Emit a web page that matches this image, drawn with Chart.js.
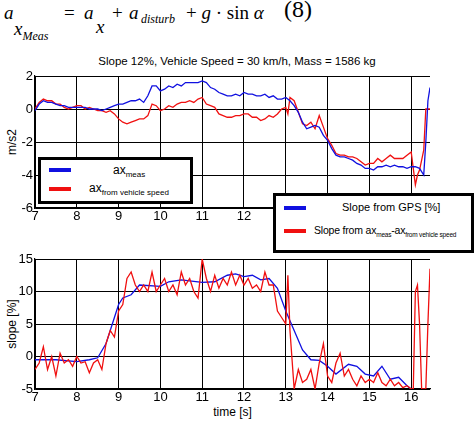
<!DOCTYPE html>
<html><head><meta charset="utf-8">
<script src="https://cdn.jsdelivr.net/npm/chart.js@4"></script>
<style>
body{margin:0;width:474px;height:421px;position:relative;background:#fff;font-family:"Liberation Sans",Arial,sans-serif;overflow:hidden}
.abs{position:absolute}
.eq{font-family:"Liberation Serif","Times New Roman",serif;font-size:19px;font-style:italic;left:4px;top:2px;white-space:nowrap}
.leg{position:absolute;border:3px solid #000;background:#fff;box-sizing:border-box;font-size:12px;z-index:5}
.sw{position:absolute;height:4px;width:22px}
sub{font-size:8px}
</style></head><body>
<div class="eq abs">
<span class="abs" style="left:0;top:0">a</span>
<span class="abs" style="left:10px;top:16px">x<sub style="font-size:12px">Meas</sub></span>
<span class="abs" style="left:60px;top:0;font-style:normal">=</span>
<span class="abs" style="left:80px;top:0">a</span>
<span class="abs" style="left:92px;top:14px">x</span>
<span class="abs" style="left:108px;top:0;font-style:normal">+</span>
<span class="abs" style="left:125px;top:0">a</span>
<span class="abs" style="left:137px;top:10px;font-size:12px">disturb</span>
<span class="abs" style="left:182px;top:0;font-style:normal">+ <i>g</i> · sin <i>α</i></span>
<span class="abs" style="left:280px;top:-6px;font-style:normal;font-size:24px">(8)</span>
</div>
<div class="abs" style="left:0;width:474px;top:55px;text-align:center;font-size:11.5px">Slope 12%, Vehicle Speed = 30 km/h, Mass = 1586 kg</div>
<div class="abs" style="left:0;top:76px;width:24px;height:132px;display:flex;align-items:center;justify-content:center"><span style="transform:rotate(-90deg);font-size:12px;white-space:nowrap">m/s2</span></div>
<div class="abs" style="left:0;top:259px;width:24px;height:130px;display:flex;align-items:center;justify-content:center"><span style="transform:rotate(-90deg);font-size:12px;white-space:nowrap">slope [%]</span></div>
<div class="abs" style="left:35px;width:395px;top:405px;text-align:center;font-size:12px">time [s]</div>
<div class="abs" style="left:0;top:54px;width:474px;height:176px"><canvas id="c1"></canvas></div>
<div class="abs" style="left:0;top:245px;width:474px;height:162px"><canvas id="c2"></canvas></div>
<div class="leg" style="left:38px;top:157px;width:155px;height:47px">
<div class="sw" style="background:#1010e0;left:8px;top:8px"></div>
<div class="abs" style="left:72px;top:3px">ax<sub>meas</sub></div>
<div class="sw" style="background:#f01010;left:8px;top:27px"></div>
<div class="abs" style="left:48px;top:21px">ax<sub>from vehicle speed</sub></div>
</div>
<div class="leg" style="left:273px;top:193px;width:201px;height:60px">
<div class="sw" style="background:#1010e0;left:8px;top:10px"></div>
<div class="abs" style="left:66px;top:5px;font-size:11px">Slope from GPS [%]</div>
<div class="sw" style="background:#f01010;left:8px;top:33px"></div>
<div class="abs" style="left:38px;top:28px;font-size:10.5px;white-space:nowrap;letter-spacing:-0.2px">Slope from ax<sub style="font-size:6.5px">meas</sub>-ax<sub style="font-size:6.5px">from vehicle speed</sub></div>
</div>
<script>
const tTop=[7.0,7.1,7.2,7.3,7.4,7.5,7.6,7.7,7.8,7.9,8.0,8.1,8.2,8.3,8.4,8.5,8.6,8.7,8.8,8.9,9.0,9.1,9.2,9.3,9.4,9.5,9.6,9.7,9.8,9.9,10.0,10.1,10.2,10.3,10.4,10.5,10.6,10.7,10.8,10.9,11.0,11.1,11.2,11.3,11.4,11.5,11.6,11.7,11.8,11.9,12.0,12.1,12.2,12.3,12.4,12.5,12.6,12.7,12.8,12.9,13.0,13.1,13.2,13.3,13.4,13.5,13.6,13.7,13.8,13.9,14.0,14.1,14.2,14.3,14.4,14.5,14.6,14.7,14.8,14.9,15.0,15.1,15.2,15.3,15.4,15.5,15.6,15.7,15.8,15.9,16.0,16.1,16.2,16.3,16.35,16.4,16.45];
const axMeas=[-0.1,0.3,0.5,0.4,0.4,0.3,0.2,0.2,0.1,0.1,0.1,0.1,0.1,0.0,0.0,0.0,-0.1,0.0,0.1,0.2,0.3,0.3,0.4,0.5,0.5,0.6,0.4,0.8,1.4,1.4,1.1,1.2,1.4,1.3,1.5,1.4,1.6,1.6,1.6,1.6,1.7,1.6,1.3,1.2,1.0,0.9,0.8,0.8,0.9,0.8,1.0,0.9,0.9,0.8,0.8,0.9,0.7,0.8,0.6,0.6,0.7,0.5,0.2,-0.2,-0.8,-1.2,-1.1,-1.0,-1.1,-1.6,-1.9,-2.4,-2.8,-2.9,-2.9,-3.0,-3.1,-3.3,-3.4,-3.6,-3.6,-3.7,-3.5,-3.5,-3.4,-3.5,-3.4,-3.5,-3.5,-3.6,-3.5,-3.5,-3.6,-4.0,-2.0,0.5,1.3];
const tRedTop=[7.0,7.1,7.2,7.3,7.4,7.5,7.6,7.7,7.8,7.9,8.0,8.1,8.2,8.3,8.4,8.5,8.6,8.7,8.8,8.9,9.0,9.1,9.2,9.3,9.4,9.5,9.6,9.7,9.8,9.9,10.0,10.1,10.2,10.3,10.4,10.5,10.6,10.7,10.8,10.9,11.0,11.1,11.2,11.3,11.4,11.5,11.6,11.7,11.8,11.9,12.0,12.1,12.2,12.3,12.4,12.5,12.6,12.7,12.8,12.9,13.0,13.05,13.1,13.2,13.3,13.4,13.5,13.6,13.7,13.8,13.9,14.0,14.1,14.2,14.3,14.4,14.5,14.6,14.7,14.8,14.9,15.0,15.1,15.2,15.3,15.4,15.5,15.6,15.7,15.8,15.9,16.0,16.05,16.1,16.15,16.2,16.3,16.35,16.45];
const axSpeed=[0.0,0.4,0.6,0.5,0.5,0.3,0.3,0.1,0.0,0.1,0.2,0.2,0.0,0.1,0.0,-0.1,-0.1,-0.2,-0.1,-0.3,-0.6,-0.8,-0.9,-0.8,-0.7,-0.6,-0.6,-0.4,0.3,0.2,-0.1,0.0,0.2,0.1,0.3,0.4,0.4,0.5,0.4,0.6,0.7,0.3,0.2,0.1,-0.3,-0.4,-0.5,-0.5,-0.4,-0.4,-0.3,-0.3,-0.5,-0.5,-0.7,-0.6,-0.4,-0.5,-0.3,0.0,0.1,-0.3,0.7,0.5,-0.2,-0.9,-1.0,-0.8,-1.2,-0.4,-1.1,-1.8,-2.2,-2.7,-2.8,-2.8,-2.9,-2.9,-3.0,-3.2,-3.4,-3.3,-3.3,-3.0,-3.2,-3.0,-2.8,-3.0,-3.0,-3.0,-2.8,-2.6,-3.6,-4.6,-4.0,-3.7,-2.5,0.0,0.0];
const tGps=[7.0,7.5,8.0,8.3,8.5,8.7,8.9,9.0,9.1,9.3,9.5,10.0,10.2,10.5,11.0,11.3,11.6,11.8,12.0,12.2,12.4,12.6,12.8,13.0,13.2,13.4,13.6,13.8,14.0,14.2,14.5,14.7,14.9,15.1,15.3,15.5,15.7,15.9,16.0];
const slopeGps=[-0.5,-0.5,-0.8,-0.5,-0.2,2,6,8,9,9.5,11,10.8,11.5,11.8,11.4,11.5,12.5,12.7,12.3,12.5,11.8,12,10.5,7,4,1,-0.5,-0.6,-1.5,-2.7,-1.2,-1.5,-2.7,-3,-1.5,-3.5,-3.2,-4.5,-5];
const tSlope=[7.0,7.1,7.2,7.3,7.4,7.5,7.6,7.7,7.8,7.9,8.0,8.1,8.2,8.3,8.4,8.5,8.6,8.7,8.8,8.9,9.0,9.1,9.2,9.3,9.4,9.5,9.6,9.7,9.8,9.9,10.0,10.1,10.2,10.3,10.4,10.5,10.6,10.7,10.8,10.9,11.0,11.1,11.2,11.3,11.4,11.5,11.6,11.7,11.8,11.9,12.0,12.1,12.2,12.3,12.4,12.5,12.6,12.7,12.8,12.9,13.0,13.05,13.1,13.2,13.3,13.4,13.5,13.6,13.7,13.8,13.9,14.0,14.1,14.2,14.3,14.4,14.5,14.6,14.7,14.8,14.9,15.0,15.1,15.2,15.3,15.4,15.5,15.6,15.7,15.8,15.9,16.0,16.05,16.1,16.15,16.2,16.25,16.3,16.35,16.4,16.45];
const slopeAx=[-2,-1,1.5,-2,0,-3,0.5,-1,-0.5,-1.5,0,-1,-0.8,-2.5,-1,-0.5,-2,2,4,3,7,8,12,13,11,10,11,10,13,10,11,12,10,11,9.5,13,11,12,10,9,15,12,10,12.5,10.5,12,11,13,11,12.5,11,12,10.5,11,10,13,11,11,7,6,5,12.5,4,-5,-2,-4,-3.5,-2,-5,-1,2,-3,-4,-1,0.5,-3,-2,-3.5,-4.5,-3,-4,-3.5,-4,-2.5,-4,-4.5,-3.5,-4.5,-4,-4.8,-4.5,-5,-5,10,11,5,-5,-5,-5,5,13.5];
const topTicks=[2,0,-2,-4,-6];
const botTicks=[15,10,5,0,-5];
const xTicks=[7,8,9,10,11,12,13,14,15,16];

const pts=(xs,ys)=>xs.map((x,i)=>({x,y:ys[i]}));
const BLUE='#1010e0',RED='#f01010';
function mk(id,sets,ymin,ymax,yt,pad,xh){
  new Chart(document.getElementById(id),{type:'line',
    data:{datasets:sets.map(s=>({data:s[0],borderColor:s[1],borderWidth:1.3,pointRadius:0,tension:0,fill:false}))},
    options:{responsive:true,maintainAspectRatio:false,animation:false,
      layout:{padding:{left:0,right:44,top:pad,bottom:0}},
      plugins:{legend:{display:false},tooltip:{enabled:false}},
      scales:{
        x:{type:'linear',min:7,max:16.45,
          afterBuildTicks:a=>{a.ticks=xTicks.map(v=>({value:v}));},
          afterFit:a=>{a.height=xh;},
          ticks:{color:'#000',font:{family:'Liberation Sans',size:13},padding:1,maxRotation:0},
          grid:{color:'#000',lineWidth:1,borderDash:[1,2],drawTicks:false},
          border:{color:'#000',width:1.2}},
        y:{min:ymin,max:ymax,
          afterBuildTicks:a=>{a.ticks=yt.map(v=>({value:v}));},
          afterFit:a=>{a.width=35;},
          ticks:{color:'#000',font:{family:'Liberation Sans',size:13},padding:2},
          grid:{color:'#000',lineWidth:1,borderDash:[1,2],drawTicks:false},
          border:{color:'#000',width:1.2}}
      }}});
}
mk('c1',[[pts(tTop,axMeas),BLUE],[pts(tRedTop,axSpeed),RED]],-6,2,topTicks,22,22);
mk('c2',[[pts(tSlope,slopeAx),RED],[pts(tGps,slopeGps),BLUE]],-5,15,botTicks,14,18);
</script>
</body></html>
